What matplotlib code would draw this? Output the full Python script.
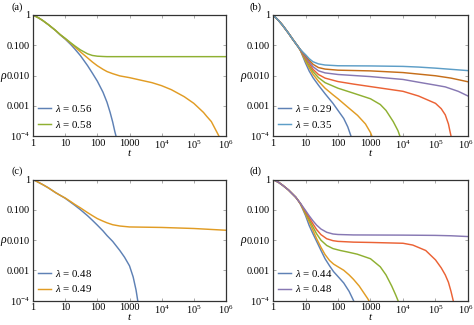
import matplotlib
matplotlib.use("Agg")
import matplotlib.pyplot as plt
import matplotlib.transforms as mtransforms

plt.rcParams['font.family'] = ['Liberation Serif', 'DejaVu Serif']
plt.rcParams['mathtext.fontset'] = 'custom'
plt.rcParams['mathtext.rm'] = 'Liberation Serif'
plt.rcParams['mathtext.it'] = 'Liberation Serif:italic'

# Mathematica default palette
BLUE = '#5E81B5'
ORANGE = '#E19C24'
GREEN = '#8FB032'
RED = '#EB6235'
PURPLE = '#8778B3'
BROWN = '#C56E1A'
LBLUE = '#5D9EC7'

# ---- panel (a) ----
a_t_056 = [1, 1.5, 2, 3, 5, 7, 10, 15, 20, 30, 50, 70, 100, 150, 200, 250, 300, 350, 380, 400]
a_r_056 = [1, 0.8, 0.66, 0.48, 0.31, 0.22, 0.16, 0.105, 0.075, 0.045, 0.021, 0.012, 0.0065, 0.0028,
           0.0013, 0.0006, 0.00029, 0.00014, 0.0001, 0.00007]
a_t_057 = [1, 1.5, 2, 3, 5, 7, 10, 15, 20, 30, 50, 70, 100, 150, 200, 300, 500, 1000, 2000, 5000,
           1e4, 2e4, 5e4, 1e5, 1.5e5, 2e5, 2.5e5, 3.5e5, 4.5e5, 5.5e5, 6e5, 6.3e5]
a_r_057 = [1, 0.8, 0.66, 0.48, 0.31, 0.225, 0.165, 0.115, 0.088, 0.06, 0.038, 0.028, 0.021, 0.016,
           0.0135, 0.0115, 0.0097, 0.0085, 0.0072, 0.0058, 0.0046, 0.0034, 0.002, 0.0012, 0.0008,
           0.0006, 0.00045, 0.0003, 0.00018, 0.00012, 0.0001, 0.00007]
a_t_058 = [1, 1.5, 2, 3, 5, 7, 10, 15, 20, 30, 50, 70, 100, 150, 200, 300, 1e3, 1e4, 1e5, 1e6]
a_r_058 = [1, 0.8, 0.66, 0.48, 0.31, 0.225, 0.17, 0.12, 0.095, 0.07, 0.052, 0.046, 0.0435, 0.0425,
           0.042, 0.042, 0.042, 0.042, 0.042, 0.042]

# ---- panel (b) ----
b_t_early = [1, 1.5, 2, 3, 4, 5, 6]
b_r_early = [1, 0.65, 0.45, 0.25, 0.16, 0.115, 0.088]
b_t_029 = [7, 8.5, 10, 13, 17, 25, 40, 70, 100, 150, 200, 250, 270]
b_r_029 = [0.066, 0.04, 0.026, 0.014, 0.0085, 0.0048, 0.0025, 0.0012, 0.0007, 0.00038, 0.0002, 0.0001, 0.00007]
b_t_030 = [7, 8.5, 10, 13, 17, 25, 40, 70, 100, 200, 400, 700, 1000, 1100, 1200]
b_r_030 = [0.067, 0.043, 0.03, 0.018, 0.011, 0.0065, 0.0038, 0.0023, 0.0017, 0.0009, 0.00048, 0.00025,
           0.00013, 0.0001, 0.00007]
b_t_031 = [7, 8.5, 10, 13, 17, 25, 40, 100, 300, 1e3, 2e3, 3e3, 5e3, 7e3, 8e3, 8.5e3]
b_r_031 = [0.068, 0.046, 0.034, 0.021, 0.0135, 0.0085, 0.0058, 0.0038, 0.0026, 0.0017, 0.0011, 0.0007,
           0.0003, 0.00015, 0.0001, 0.00007]
b_t_032 = [7, 8.5, 10, 13, 17, 25, 40, 100, 300, 1e3, 1e4, 3e4, 1e5, 1.5e5, 2e5, 2.5e5, 2.8e5, 3e5, 3.1e5]
b_r_032 = [0.069, 0.049, 0.038, 0.025, 0.016, 0.0108, 0.0082, 0.0063, 0.0052, 0.0043, 0.003, 0.0021,
           0.0012, 0.0008, 0.0005, 0.00025, 0.00014, 0.0001, 0.00007]
b_t_033 = [7, 8.5, 10, 13, 17, 25, 40, 100, 1e3, 1e4, 3e4, 1e5, 2e5, 5e5, 1e6]
b_r_033 = [0.07, 0.052, 0.041, 0.028, 0.0195, 0.0143, 0.0122, 0.0108, 0.0092, 0.0074, 0.006, 0.0048,
           0.0042, 0.003, 0.0021]
b_t_034 = [7, 8.5, 10, 13, 17, 25, 40, 100, 1e3, 1e4, 1e5, 3e5, 1e6]
b_r_034 = [0.071, 0.055, 0.045, 0.032, 0.0235, 0.0183, 0.0163, 0.015, 0.0142, 0.0125, 0.0098, 0.0082, 0.0062]
b_t_035 = [7, 8.5, 10, 13, 17, 25, 40, 100, 1e3, 1e4, 3e4, 1e5, 3e5, 1e6]
b_r_035 = [0.072, 0.058, 0.049, 0.036, 0.0285, 0.0242, 0.0222, 0.021, 0.0207, 0.02, 0.019, 0.0175,
           0.016, 0.0145]

# ---- panel (c) ----
c_t_048 = [1, 1.5, 2, 3, 5, 7, 10, 15, 20, 30, 50, 70, 100, 150, 200, 300, 500, 700, 1000,
           1300, 1600, 1800, 1900]
c_r_048 = [1, 0.8, 0.68, 0.53, 0.37, 0.3, 0.24, 0.175, 0.14, 0.1, 0.063, 0.045, 0.031, 0.02,
           0.014, 0.009, 0.0045, 0.0027, 0.0014, 0.0006, 0.00022, 0.0001, 0.00007]
c_t_049 = [1, 1.5, 2, 3, 5, 7, 10, 15, 20, 30, 50, 70, 100, 150, 200, 300, 500, 1000, 1e4, 1e5, 1e6]
c_r_049 = [1, 0.8, 0.68, 0.53, 0.37, 0.3, 0.245, 0.185, 0.15, 0.115, 0.08, 0.064, 0.051, 0.042,
           0.037, 0.032, 0.029, 0.027, 0.026, 0.024, 0.021]

# ---- panel (d) ----
d_t_early = [1, 1.5, 2, 3, 4, 5, 6]
d_r_early = [1, 0.8, 0.64, 0.45, 0.33, 0.26, 0.2]
d_t_044 = [7, 8, 10, 13, 17, 22, 30, 40, 55, 73, 100, 150, 220, 300, 330]
d_r_044 = [0.152, 0.112, 0.065, 0.03, 0.016, 0.009, 0.0045, 0.0024, 0.0014, 0.0009, 0.00062, 0.00038,
           0.0002, 0.0001, 0.00007]
d_t_045 = [7, 8, 10, 13, 17, 22, 30, 40, 55, 73, 100, 150, 220, 300, 450, 620, 800, 890, 950]
d_r_045 = [0.155, 0.118, 0.072, 0.04, 0.021, 0.011, 0.0057, 0.0033, 0.0021, 0.0016, 0.0013, 0.001,
           0.0007, 0.0005, 0.0003, 0.00018, 0.00012, 0.0001, 0.00007]
d_t_046 = [7, 8, 10, 13, 17, 22, 30, 45, 70, 118, 200, 390, 1000, 2000, 3000, 4500, 6000, 7000, 7500]
d_r_046 = [0.158, 0.123, 0.08, 0.047, 0.027, 0.016, 0.0098, 0.0066, 0.0052, 0.0045, 0.004, 0.0034,
           0.0024, 0.0013, 0.0007, 0.0003, 0.00015, 0.0001, 0.00007]
d_t_047 = [7, 8, 10, 13, 17, 22, 30, 45, 70, 100, 300, 1e3, 1e4, 2e4, 5e4, 1e5, 1.5e5, 2e5, 2.5e5,
           3e5, 3.5e5, 3.7e5]
d_r_047 = [0.161, 0.128, 0.088, 0.055, 0.034, 0.022, 0.015, 0.011, 0.0095, 0.009, 0.0085, 0.0083, 0.0078,
           0.0068, 0.0045, 0.0022, 0.0012, 0.0007, 0.0004, 0.0002, 0.0001, 0.00007]
d_t_048 = [7, 8, 10, 13, 17, 22, 30, 45, 70, 100, 300, 1e4, 1e5, 3e5, 1e6]
d_r_048 = [0.164, 0.133, 0.095, 0.063, 0.043, 0.031, 0.023, 0.018, 0.0158, 0.0152, 0.0147, 0.0145,
           0.0142, 0.0138, 0.013]

panel_curves = {
    'a': [(a_t_056, a_r_056, BLUE, r'$\lambda$ = 0.56'),
          (a_t_057, a_r_057, ORANGE, None),
          (a_t_058, a_r_058, GREEN, r'$\lambda$ = 0.58')],
    'b': [(b_t_early + b_t_029, b_r_early + b_r_029, BLUE, r'$\lambda$ = 0.29'),
          (b_t_early + b_t_030, b_r_early + b_r_030, ORANGE, None),
          (b_t_early + b_t_031, b_r_early + b_r_031, GREEN, None),
          (b_t_early + b_t_032, b_r_early + b_r_032, RED, None),
          (b_t_early + b_t_033, b_r_early + b_r_033, PURPLE, None),
          (b_t_early + b_t_034, b_r_early + b_r_034, BROWN, None),
          (b_t_early + b_t_035, b_r_early + b_r_035, LBLUE, r'$\lambda$ = 0.35')],
    'c': [(c_t_048, c_r_048, BLUE, r'$\lambda$ = 0.48'),
          (c_t_049, c_r_049, ORANGE, r'$\lambda$ = 0.49')],
    'd': [(d_t_early + d_t_044, d_r_early + d_r_044, BLUE, r'$\lambda$ = 0.44'),
          (d_t_early + d_t_045, d_r_early + d_r_045, ORANGE, None),
          (d_t_early + d_t_046, d_r_early + d_r_046, GREEN, None),
          (d_t_early + d_t_047, d_r_early + d_r_047, RED, None),
          (d_t_early + d_t_048, d_r_early + d_r_048, PURPLE, r'$\lambda$ = 0.48')],
}

x_ticks = [1, 10, 100, 1000, 1e4, 1e5, 1e6]
x_labels = ['1', '10', '100', '1000', r'$10^{4}$', r'$10^{5}$', r'$10^{6}$']
y_ticks = [1e-4, 1e-3, 1e-2, 1e-1, 1]
y_labels = [r'$10^{-4}$', '0.001', '0.010', '0.100', '1']

W, H = 474, 325
fig = plt.figure(figsize=(W / 100, H / 100), dpi=100)

# axes boxes in pixels: left, top, right, bottom
boxes = {'a': (33, 15, 226, 136), 'b': (273, 15, 468, 136),
         'c': (33, 179.5, 226, 300.5), 'd': (273, 179.5, 468, 300.5)}
tags = {'a': (12, 7), 'b': (250, 7), 'c': (12, 171), 'd': (250, 171)}
rho_x = {'a': 3, 'b': 243, 'c': 3, 'd': 243}

for key, (l, t, r, b) in boxes.items():
    ax = fig.add_axes([l / W, 1 - b / H, (r - l) / W, (b - t) / H])
    for tt, rr, col, lab in panel_curves[key]:
        ax.plot(tt, rr, color=col, lw=1.05, label=lab if lab else '_nolegend_')
    ax.set_xscale('log')
    ax.set_yscale('log')
    ax.set_xlim(1, 1e6)
    ax.set_ylim(1e-4, 1)
    ax.set_xticks(x_ticks)
    ax.set_xticklabels(x_labels)
    ax.set_yticks(y_ticks)
    ax.set_yticklabels(y_labels)
    ax.minorticks_off()
    ax.tick_params(direction='in', length=2, width=0.5, color='#888888',
                   labelsize=7.4, pad=2, top=True, right=True)
    if key in 'bd':
        # keep the last x label inside the figure
        lab6 = ax.get_xticklabels()[-1]
        lab6.set_transform(lab6.get_transform() +
                           mtransforms.ScaledTranslation(-2.5 / 100, 0, fig.dpi_scale_trans))
    for s in ax.spines.values():
        s.set_color('#333333')
        s.set_linewidth(0.9)
    ax.set_xlabel('t', fontstyle='italic', fontsize=8)
    ax.xaxis.set_label_coords(0.5, -12.5 / (b - t))
    ax.legend(loc='lower left', frameon=False, fontsize=7.8,
              handlelength=1.2, handletextpad=0.35, labelspacing=0.45,
              borderaxespad=0.0, borderpad=0.0, bbox_to_anchor=(5 / (r - l), 6 / (b - t)))
    fig.text(rho_x[key] / W, 1 - (t + 60.5) / H, 'ρ',
             fontstyle='italic', fontsize=8.5, ha='center', va='center')
    fig.text(tags[key][0] / W, 1 - tags[key][1] / H, '(%s)' % key,
             fontsize=7.5, ha='left', va='center')

fig.savefig('out.png', dpi=100)
